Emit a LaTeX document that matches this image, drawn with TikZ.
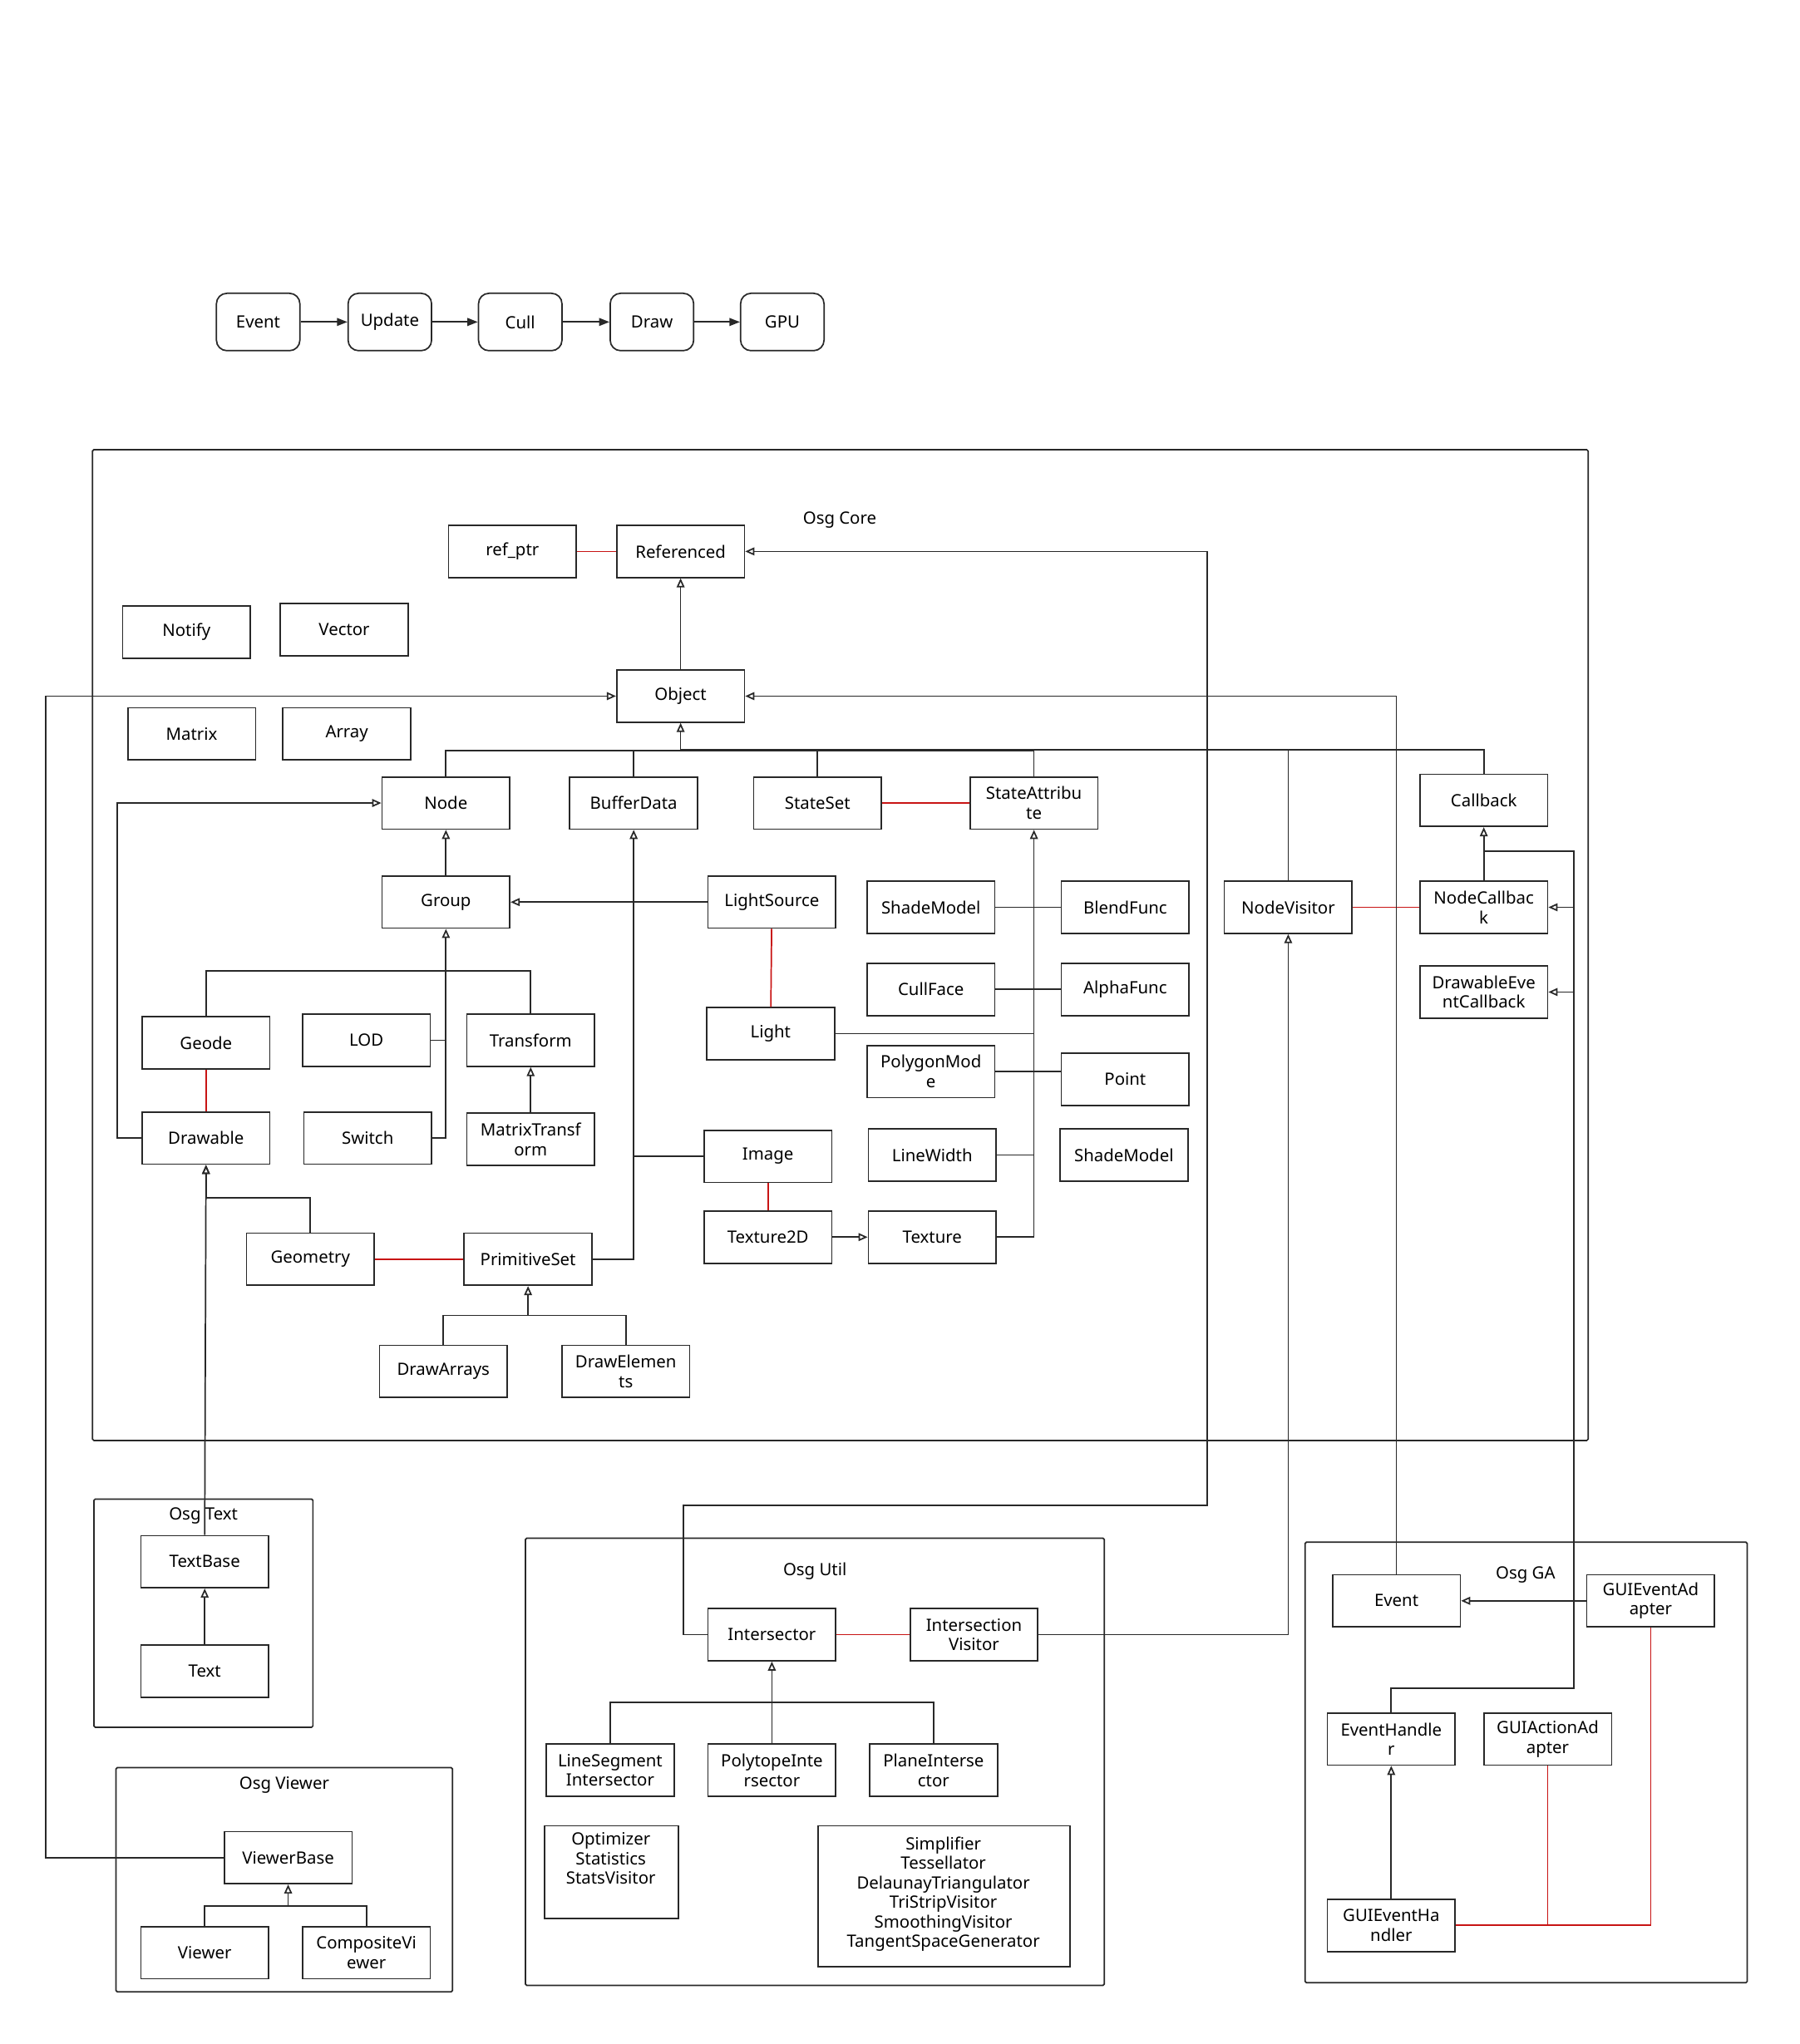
\documentclass[tikz,border=0pt]{standalone}
\usepackage{fontspec}
\setmainfont{Noto Sans}
\usetikzlibrary{arrows.meta}
\definecolor{ln}{RGB}{40,40,40}
\definecolor{rd}{RGB}{200,20,20}
\begin{document}
\begin{tikzpicture}[x=1pt,y=-1pt,line width=1.1pt,
 box/.style={draw=ln,minimum width=98pt,minimum height=40pt,align=center,inner sep=1pt,font=\fontsize{13}{15}\selectfont\bfseries},
 pbox/.style={box,rounded corners=8pt,minimum width=64pt,minimum height=44pt},
 frm/.style={draw=ln,rounded corners=1pt},
 lbl/.style={font=\fontsize{13}{15}\selectfont\bfseries},
 inh/.style={draw=ln,-{Triangle[open,length=7pt,width=6pt]}},
 pl/.style={draw=ln,-{Triangle[length=8pt,width=6pt]}},
 rl/.style={draw=rd},
 pln/.style={draw=ln}]
\useasboundingbox (0,0) rectangle (1380,1568);
% pipeline
\node[pbox] (pe) at (198,247) {Event};
\node[pbox] (pu) at (299,247) {Update};
\node[pbox] (pc) at (399,247) {Cull};
\node[pbox] (pd) at (500,247) {Draw};
\node[pbox] (pg) at (600,247) {GPU};
\draw[pl] (pe) -- (pu); \draw[pl] (pu) -- (pc); \draw[pl] (pc) -- (pd); \draw[pl] (pd) -- (pg);
% frames
\draw[frm] (71,345) rectangle (1218,1105);
\node[lbl] (lcore) at (644,399) {Osg Core};
\draw[frm] (72,1150) rectangle (240,1325);
\node[lbl] (ltext) at (156,1163) {Osg Text};
\draw[frm] (89,1356) rectangle (347,1528);
\node[lbl] (lview) at (218,1369) {Osg Viewer};
\draw[frm] (403,1180) rectangle (847,1523);
\node[lbl] (lutil) at (625,1205) {Osg Util};
\draw[frm] (1001,1183) rectangle (1340,1521);
\node[lbl] (lga) at (1170,1208) {Osg GA};
% core nodes
\node[box] (refptr) at (393,423) {ref\_ptr};
\node[box] (ref) at (522,423) {Referenced};
\node[box] (notify) at (143,485) {Notify};
\node[box] (vector) at (264,483) {Vector};
\node[box] (matrix) at (147,563) {Matrix};
\node[box] (array) at (266,563) {Array};
\node[box] (obj) at (522,534) {Object};
\node[box] (node) at (342,616) {Node};
\node[box] (buf) at (486,616) {BufferData};
\node[box] (ss) at (627,616) {StateSet};
\node[box] (sa) at (793,616) {StateAttribu\\te};
\node[box] (cb) at (1138,614) {Callback};
\node[box] (group) at (342,692) {Group};
\node[box] (ls) at (592,692) {LightSource};
\node[box] (shm) at (714,696) {ShadeModel};
\node[box] (blend) at (863,696) {BlendFunc};
\node[box] (nv) at (988,696) {NodeVisitor};
\node[box] (ncb) at (1138,696) {NodeCallbac\\k};
\node[box] (cull) at (714,759) {CullFace};
\node[box] (alpha) at (863,759) {AlphaFunc};
\node[box] (decb) at (1138,761) {DrawableEve\\ntCallback};
\node[box] (geode) at (158,800) {Geode};
\node[box] (lod) at (281,798) {LOD};
\node[box] (tr) at (407,798) {Transform};
\node[box] (light) at (591,793) {Light};
\node[box] (poly) at (714,822) {PolygonMod\\e};
\node[box] (point) at (863,828) {Point};
\node[box] (draw) at (158,873) {Drawable};
\node[box] (sw) at (282,873) {Switch};
\node[box] (mt) at (407,874) {MatrixTransf\\orm};
\node[box] (img) at (589,887) {Image};
\node[box] (lw) at (715,886) {LineWidth};
\node[box] (shm2) at (862,886) {ShadeModel};
\node[box] (geom) at (238,966) {Geometry};
\node[box] (ps) at (405,966) {PrimitiveSet};
\node[box] (t2d) at (589,949) {Texture2D};
\node[box] (tex) at (715,949) {Texture};
\node[box] (da) at (340,1052) {DrawArrays};
\node[box] (de) at (480,1052) {DrawElemen\\ts};
% text
\node[box] (tb) at (157,1198) {TextBase};
\node[box] (txt) at (157,1282) {Text};
% viewer
\node[box] (vb) at (221,1425) {ViewerBase};
\node[box] (vw) at (157,1498) {Viewer};
\node[box] (cv) at (281,1498) {CompositeVi\\ewer};
% util
\node[box] (isec) at (592,1254) {Intersector};
\node[box] (iv) at (747,1254) {Intersection\\Visitor};
\node[box] (lsi) at (468,1358) {LineSegment\\Intersector};
\node[box] (pti) at (592,1358) {PolytopeInte\\rsector};
\node[box] (pli) at (716,1358) {PlaneInterse\\ctor};
\node[box,minimum width=103pt,minimum height=71pt,anchor=north west,align=center] (opt) at (417,1400) {};
\node[lbl,anchor=north,align=center] (optt) at (468.5,1402) {Optimizer\\Statistics\\StatsVisitor};
\node[box,minimum width=193pt,minimum height=108pt,anchor=north west] (simp) at (627,1400) {};
\node[lbl,anchor=north,align=center] (simpt) at (723.5,1405) {Simplifier\\Tessellator\\DelaunayTriangulator\\TriStripVisitor\\SmoothingVisitor\\TangentSpaceGenerator};
% GA
\node[box] (gev) at (1071,1228) {Event};
\node[box] (gea) at (1266,1228) {GUIEventAd\\apter};
\node[box] (eh) at (1067,1334) {EventHandle\\r};
\node[box] (gaa) at (1187,1334) {GUIActionAd\\apter};
\node[box] (geh) at (1067,1477) {GUIEventHa\\ndler};
% connectors core
\draw[rl] (refptr) -- (ref);
\draw[inh] (obj) -- (ref);
\draw[pln] (node.north) |- (793,576) -- (sa.north);
\draw[pln] (buf.north) -- (486,576);
\draw[pln] (ss.north) -- (627,576);
\draw[inh] (522,576) -- (obj.south);
\draw[pln] (nv.north) |- (522,575);
\draw[pln] (cb.north) |- (988,575);
\draw[rl] (ss) -- (sa);
\draw[inh] (group) -- (node);
\draw[inh] (ls) -- (group);
\draw[rl] (ls) -- (light);
\draw[pln] (geode.north) |- (407,745) -- (tr.north);
\draw[inh] (342,745) -- (group.south);
\draw[pln] (lod.east) -- (342,798);
\draw[pln] (sw.east) -| (342,745);
\draw[inh] (mt) -- (tr);
\draw[rl] (geode) -- (draw);
\draw[inh] (draw.west) -- (90,873) |- (node.west);
\draw[inh] (geom.north) |- (158,919) -- (draw.south);
\draw[rl] (geom) -- (ps);
\draw[inh] (ps.east) -| (buf.south);
\draw[pln] (img.west) -- (486,887);
\draw[rl] (img) -- (t2d);
\draw[inh] (t2d) -- (tex);
\draw[pln] (da.north) |- (480,1009) -- (de.north);
\draw[inh] (405,1009) -- (ps.south);
\draw[inh] (tex.east) -| (sa.south);
\draw[pln] (shm) -- (blend);
\draw[pln] (cull) -- (alpha);
\draw[pln] (light.east) -- (793,793);
\draw[pln] (poly.east) -- (point.west |- poly.east);
\draw[pln] (lw.east) -- (793,886);
\draw[rl] (nv) -- (ncb);
\draw[inh] (ncb) -- (cb);
\draw[pln] (eh.north) |- (1207,1295) -- (1207,653) -- (1138,653);
\draw[inh] (1207,696) -- (ncb.east);
\draw[inh] (1207,761) -- (decb.east);
\draw[inh] (gev.north) |- (obj.east);
\draw[inh] (gea) -- (gev);
\draw[rl] (gea.south) |- (geh.east);
\draw[rl] (gaa.south) -- (1187,1476);
\draw[inh] (geh) -- (eh);
\draw[inh] (isec.west) -- (524,1254) |- (926,1155) |- (ref.east);
\draw[rl] (isec) -- (iv);
\draw[inh] (iv.east) -| (nv.south);
\draw[pln] (lsi.north) |- (716,1306) -- (pli.north);
\draw[inh] (pti) -- (isec);
\draw[inh] (tb.north) -- (draw.south);
\draw[inh] (txt) -- (tb);
\draw[inh] (vb.west) -- (35,1425) |- (obj.west);
\draw[pln] (vw.north) |- (281,1462) -- (cv.north);
\draw[inh] (221,1462) -- (vb.south);
\end{tikzpicture}
\end{document}
